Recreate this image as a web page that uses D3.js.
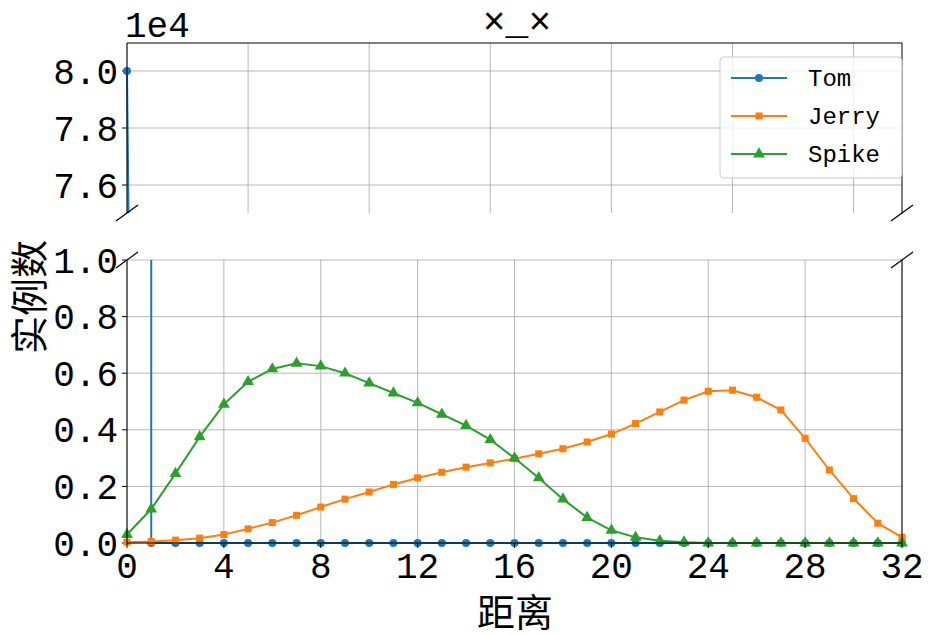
<!DOCTYPE html><html><head><meta charset="utf-8">
<script src="https://cdn.jsdelivr.net/npm/d3@7"></script>
<style>body{margin:0;background:#fff}text{font-family:"Liberation Mono","Noto Sans CJK SC",monospace}</style></head><body>
<svg id="c" width="928" height="635"></svg>
<script>
const xs=d3.range(0,33);
const tom=[80000].concat(d3.range(1,33).map(()=>0));
const jerry=[0.003,0.005,0.01,0.017,0.03,0.05,0.072,0.098,0.127,0.155,0.18,0.207,0.23,0.25,0.268,0.283,0.298,0.315,0.333,0.357,0.385,0.422,0.463,0.505,0.536,0.54,0.515,0.47,0.37,0.258,0.157,0.07,0.02];
const spike=[0.03,0.12,0.245,0.375,0.49,0.57,0.615,0.635,0.625,0.6,0.565,0.53,0.495,0.455,0.415,0.365,0.3,0.23,0.155,0.09,0.045,0.02,0.008,0.003,0,0,0,0,0,0,0,0,0];
const xTicks=[0,4,8,12,16,20,24,28,32];
const topXTicks=[0,5,10,15,20,25,30];
const botTicks=[0,0.2,0.4,0.6,0.8,1.0];
const topTicks=[76000,78000,80000];
const names=["Tom","Jerry","Spike"],colors=["#1f77b4","#ff7f0e","#2ca02c"],shapes=[d3.symbolCircle,d3.symbolSquare,d3.symbolTriangle];
const series=[tom,jerry,spike];
const svg=d3.select("#c");
const L=127,R=902;
const x=d3.scaleLinear().domain([0,32]).range([L,R]);
const yT=d3.scaleLinear().domain([75018,80982]).range([213,43]);
const yB=d3.scaleLinear().domain([0,1]).range([543,260]);
const defs=svg.append("defs");
defs.append("clipPath").attr("id","ct").append("rect").attr("x",L-8).attr("y",36).attr("width",R-L+16).attr("height",177);
defs.append("clipPath").attr("id","cb").append("rect").attr("x",L-8).attr("y",260).attr("width",R-L+16).attr("height",290);
function panel(y,ticks,xt,fmt,clip,top,bottom){
 const g=svg.append("g");
 xt.forEach(t=>g.append("line").attr("x1",x(t)).attr("x2",x(t)).attr("y1",top).attr("y2",bottom).attr("stroke","#b0b0b0").attr("stroke-width",0.9));
 ticks.forEach(t=>{g.append("line").attr("x1",L).attr("x2",R).attr("y1",y(t)).attr("y2",y(t)).attr("stroke","#b0b0b0").attr("stroke-width",0.9);
  g.append("line").attr("x1",L-5).attr("x2",L).attr("y1",y(t)).attr("y2",y(t)).attr("stroke","#000");
  g.append("text").attr("x",L-9).attr("y",y(t)).attr("dy","0.35em").attr("text-anchor","end").attr("font-size",36).text(fmt(t));});
 const d=g.append("g").attr("clip-path",`url(#${clip})`);
 series.forEach((s,i)=>{
  d.append("path").datum(xs).attr("fill","none").attr("stroke",colors[i]).attr("stroke-width",2)
   .attr("d",d3.line().x(k=>x(k)).y(k=>y(s[k])));
  d.selectAll(null).data(xs).enter().append("path").attr("d",d3.symbol().type(shapes[i]).size(i==2?60:50))
   .attr("transform",k=>`translate(${x(k)},${y(s[k])})`).attr("fill",colors[i]);
 });
 return g;
}
panel(yT,topTicks,topXTicks,t=>(t/1e4).toFixed(1),"ct",43,213);
panel(yB,botTicks,xTicks,t=>t.toFixed(1),"cb",260,543);
svg.append("path").attr("d",`M${L},213V43H${R}V213`).attr("fill","none").attr("stroke","#000").attr("stroke-width",1);
svg.append("path").attr("d",`M${L},260V543H${R}V260`).attr("fill","none").attr("stroke","#000").attr("stroke-width",1);
[[L,213],[R,213],[L,260],[R,260]].forEach(([a,b])=>svg.append("line").attr("x1",a-11).attr("y1",b+8).attr("x2",a+11).attr("y2",b-8).attr("stroke","#000").attr("stroke-width",1.2));
xTicks.forEach(t=>{svg.append("line").attr("x1",x(t)).attr("x2",x(t)).attr("y1",543).attr("y2",548).attr("stroke","#000");
 svg.append("text").attr("x",x(t)).attr("y",578).attr("text-anchor","middle").attr("font-size",36).text(t);});
svg.append("text").attr("x",125).attr("y",37).attr("font-size",36).text("1e4");
svg.append("text").attr("x",517).attr("y",34).attr("text-anchor","middle").attr("font-size",38).attr("font-family","Noto Sans CJK SC").text("×_×");
svg.append("text").attr("x",515).attr("y",626).attr("text-anchor","middle").attr("font-size",38).text("距离");
svg.append("text").attr("transform","translate(43,297) rotate(-90)").attr("text-anchor","middle").attr("font-size",38).text("实例数");
const lg=svg.append("g");
lg.append("rect").attr("x",720).attr("y",57).attr("width",182).attr("height",121).attr("rx",4).attr("fill","#fff").attr("fill-opacity",0.8).attr("stroke","#ccc");
names.forEach((n,i)=>{const yy=78+i*38;
 lg.append("line").attr("x1",731).attr("x2",787).attr("y1",yy).attr("y2",yy).attr("stroke",colors[i]).attr("stroke-width",2);
 lg.append("path").attr("d",d3.symbol().type(shapes[i]).size(i==2?60:50)).attr("transform",`translate(759,${yy})`).attr("fill",colors[i]);
 lg.append("text").attr("x",808).attr("y",yy).attr("dy","0.35em").attr("font-size",24).text(n);});
</script></body></html>
